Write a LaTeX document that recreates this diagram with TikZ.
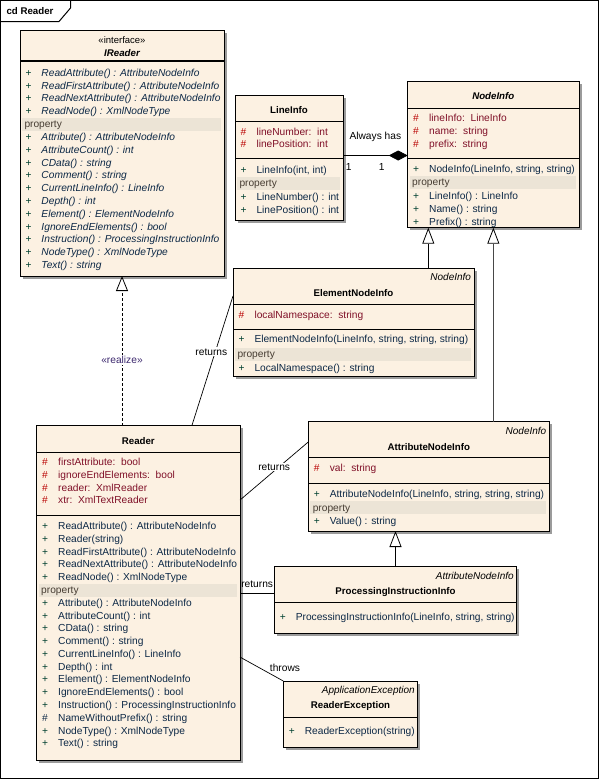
\documentclass[tikz,border=0pt]{standalone}
\usepackage{fontspec}
\setmainfont{Liberation Sans}
\usetikzlibrary{arrows.meta,shadows}
\definecolor{umlfill}{RGB}{252,241,226}
\definecolor{propband}{RGB}{236,228,214}
\definecolor{shadowgray}{RGB}{155,155,155}
\definecolor{hashred}{RGB}{185,0,0}
\definecolor{attrtxt}{RGB}{128,16,40}
\definecolor{optxt}{RGB}{12,40,70}
\definecolor{plusgreen}{RGB}{0,64,48}
\definecolor{proptxt}{RGB}{70,60,50}
\definecolor{realizecol}{RGB}{60,40,110}
\newcommand\umlA[1]{\makebox[16pt][l]{\color{hashred}\#}&\color{attrtxt}#1\\}
\newcommand\umlO[1]{\makebox[16pt][l]{\color{plusgreen}+}&\color{optxt}#1\\}
\newcommand\umlOI[1]{\makebox[16pt][l]{\color{plusgreen}+}&\color{optxt}\itshape #1\\}
\newcommand\umlOP[1]{\makebox[16pt][l]{\color{optxt}\#}&\color{optxt}#1\\}
\newcommand\umlP{\multicolumn{2}{@{}l@{}}{\hspace*{-1pt}\color{proptxt}property}\\}
\newcommand\umlcomp[5]{\node[txt, anchor=north west] (#1) at ({#2+5.5},{#3+3.6-0.7*#4}) {\fontsize{10.2}{#4}\selectfont\begin{tabular}{@{}l@{}l@{}}#5\end{tabular}};}
\begin{document}
\begin{tikzpicture}[x=1pt,y=-1pt,
  classbox/.style={draw=black, line width=0.9pt, fill=umlfill, inner sep=0pt, outer sep=0pt,
    drop shadow={shadow xshift=2.5pt, shadow yshift=-2.5pt, fill=shadowgray, opacity=1}},
  band/.style={fill=propband},
  sepline/.style={draw=black, line width=0.9pt},
  txt/.style={inner sep=0pt, outer sep=0pt, font=\fontsize{10.2}{12.8}\selectfont},
  ttl/.style={inner sep=0pt, outer sep=0pt, anchor=base, font=\bfseries\fontsize{9.7}{12}\selectfont},
  stereo/.style={inner sep=0pt, outer sep=0pt, anchor=base east, font=\itshape\fontsize{10}{12}\selectfont},
  lbl/.style={inner sep=1pt, fill=white, font=\fontsize{10.2}{12}\selectfont},
  lblplain/.style={inner sep=0pt, font=\fontsize{10.2}{12}\selectfont},
  gen/.style={draw=black, line width=0.8pt, -{Triangle[length=16pt,width=12pt,fill=white]}},
  gentwo/.style={draw=black!72, line width=1.3pt, -{Triangle[length=16pt,width=12pt,fill=white,line width=0.8pt,color=black]}},
  realize/.style={draw=black, line width=0.8pt, dash pattern=on 3pt off 2pt, -{Triangle[length=15pt,width=12pt,fill=white]}},
  compo/.style={draw=black, line width=0.8pt, -{Diamond[length=19pt,width=10pt]}},
  assoc/.style={draw=black, line width=0.7pt}
]
\useasboundingbox (0,0) rectangle (600,780);
% frame
\draw[line width=1.2pt] (0.6,0.6) rectangle (598.6,778.6);
\draw[line width=1pt] (0.6,21.5) -- (59,21.5) -- (70.5,8) -- (70.5,0.6);
\node[ttl] (frametitle) at (30,14.5) {cd Reader};

% boxes
\node[classbox, minimum width=204pt, minimum height=246pt, anchor=north west] (ireader) at (20,30) {};
\node[classbox, minimum width=108pt, minimum height=124.3pt, anchor=north west] (lineinfo) at (235,95.7) {};
\node[classbox, minimum width=171.3pt, minimum height=146pt, anchor=north west] (nodeinfo) at (407.7,81.7) {};
\node[classbox, minimum width=241pt, minimum height=108.7pt, anchor=north west] (elem) at (233,268) {};
\node[classbox, minimum width=203.3pt, minimum height=334.3pt, anchor=north west] (reader) at (36.7,425.7) {};
\node[classbox, minimum width=241pt, minimum height=109.3pt, anchor=north west] (attr) at (308.3,421.7) {};
\node[classbox, minimum width=242.4pt, minimum height=66.6pt, anchor=north west] (pii) at (274.3,566.7) {};
\node[classbox, minimum width=134.4pt, minimum height=66.3pt, anchor=north west] (exc) at (283.3,681) {};

% property bands
\fill[band] (22,117.7) rectangle (221,130.7);
\fill[band] (237,176.8) rectangle (340,189.8);
\fill[band] (409.7,176) rectangle (576,189);
\fill[band] (235,347.5) rectangle (471,360.5);
\fill[band] (38.7,584) rectangle (237,597);
\fill[band] (310.3,500.5) rectangle (546.3,513.5);

% separators
\draw[sepline, line width=1.4pt] (20,61) -- (224,61);
\draw[sepline] (235,121) -- (343,121);
\draw[sepline] (235,158) -- (343,158);
\draw[sepline] (407.7,108) -- (579,108);
\draw[sepline] (407.7,158) -- (579,158);
\draw[sepline] (233,304) -- (474,304);
\draw[sepline] (233,329) -- (474,329);
\draw[sepline] (36.7,452) -- (240,452);
\draw[sepline] (36.7,515.7) -- (240,515.7);
\draw[sepline] (308.3,457.7) -- (549.3,457.7);
\draw[sepline] (308.3,483.3) -- (549.3,483.3);
\draw[sepline] (274.3,602.3) -- (516.7,602.3);
\draw[sepline] (283.3,717.3) -- (417.7,717.3);

% titles
\node[txt, anchor=base, font=\fontsize{9.5}{12}\selectfont] (ireader-st) at (122,43.5) {«interface»};
\node[ttl, font=\bfseries\itshape\fontsize{9.7}{12}\selectfont] (ireader-t) at (122,56.8) {IReader};
\node[ttl] (lineinfo-t) at (289,113.5) {LineInfo};
\node[ttl, font=\bfseries\itshape\fontsize{9.7}{12}\selectfont] (nodeinfo-t) at (493.3,99.2) {NodeInfo};
\node[stereo] (elem-st) at (471,280.6) {NodeInfo};
\node[ttl] (elem-t) at (353.5,296.2) {ElementNodeInfo};
\node[ttl] (reader-t) at (138.3,444.2) {Reader};
\node[stereo] (attr-st) at (546.3,434.3) {NodeInfo};
\node[ttl] (attr-t) at (428.8,450.2) {AttributeNodeInfo};
\node[stereo] (pii-st) at (513.7,579.3) {AttributeNodeInfo};
\node[ttl] (pii-t) at (395.5,594.5) {ProcessingInstructionInfo};
\node[stereo] (exc-st) at (414.7,693.6) {ApplicationException};
\node[ttl] (exc-t) at (350.5,708.8) {ReaderException};

% compartments
\umlcomp{ireader-ops}{20}{72.6}{12.83}{%
\umlOI{ReadAttribute() : AttributeNodeInfo}
\umlOI{ReadFirstAttribute() : AttributeNodeInfo}
\umlOI{ReadNextAttribute() : AttributeNodeInfo}
\umlOI{ReadNode() : XmlNodeType}
\umlP
\umlOI{Attribute() : AttributeNodeInfo}
\umlOI{AttributeCount() : int}
\umlOI{CData() : string}
\umlOI{Comment() : string}
\umlOI{CurrentLineInfo() : LineInfo}
\umlOI{Depth() : int}
\umlOI{Element() : ElementNodeInfo}
\umlOI{IgnoreEndElements() : bool}
\umlOI{Instruction() : ProcessingInstructionInfo}
\umlOI{NodeType() : XmlNodeType}
\umlOI{Text() : string}}
\umlcomp{lineinfo-attrs}{235}{131.7}{12.3}{%
\umlA{lineNumber:\ \ int}
\umlA{linePosition:\ \ int}}
\umlcomp{lineinfo-ops}{235}{170}{13.33}{%
\umlO{LineInfo(int, int)}
\umlP
\umlO{LineNumber() : int}
\umlO{LinePosition() : int}}
\umlcomp{nodeinfo-attrs}{407.7}{117.7}{13}{%
\umlA{lineInfo:\ \ LineInfo}
\umlA{name:\ \ string}
\umlA{prefix:\ \ string}}
\umlcomp{nodeinfo-ops}{407.7}{169}{13.2}{%
\umlO{NodeInfo(LineInfo, string, string)}
\umlP
\umlO{LineInfo() : LineInfo}
\umlO{Name() : string}
\umlO{Prefix() : string}}
\umlcomp{elem-attrs}{233}{314.7}{13}{%
\umlA{localNamespace:\ \ string}}
\umlcomp{elem-ops}{233}{339.3}{14.2}{%
\umlO{ElementNodeInfo(LineInfo, string, string, string)}
\umlP
\umlO{LocalNamespace() : string}}
\umlcomp{reader-attrs}{36.7}{462.3}{12.57}{%
\umlA{firstAttribute:\ \ bool}
\umlA{ignoreEndElements:\ \ bool}
\umlA{reader:\ \ XmlReader}
\umlA{xtr:\ \ XmlTextReader}}
\umlcomp{reader-ops}{36.7}{526}{12.78}{%
\umlO{ReadAttribute() : AttributeNodeInfo}
\umlO{Reader(string)}
\umlO{ReadFirstAttribute() : AttributeNodeInfo}
\umlO{ReadNextAttribute() : AttributeNodeInfo}
\umlO{ReadNode() : XmlNodeType}
\umlP
\umlO{Attribute() : AttributeNodeInfo}
\umlO{AttributeCount() : int}
\umlO{CData() : string}
\umlO{Comment() : string}
\umlO{CurrentLineInfo() : LineInfo}
\umlO{Depth() : int}
\umlO{Element() : ElementNodeInfo}
\umlO{IgnoreEndElements() : bool}
\umlO{Instruction() : ProcessingInstructionInfo}
\umlOP{NameWithoutPrefix() : string}
\umlO{NodeType() : XmlNodeType}
\umlO{Text() : string}}
\umlcomp{attr-attrs}{308.3}{467.7}{13}{%
\umlA{val:\ \ string}}
\umlcomp{attr-ops}{308.3}{494}{13.5}{%
\umlO{AttributeNodeInfo(LineInfo, string, string, string)}
\umlP
\umlO{Value() : string}}
\umlcomp{pii-ops}{274.3}{616.7}{13}{%
\umlO{ProcessingInstructionInfo(LineInfo, string, string)}}
\umlcomp{exc-ops}{283.3}{730.7}{13}{%
\umlO{ReaderException(string)}}

% connectors
\coordinate (gx1) at (428.3,0);
\coordinate (cy) at (0,155.5);
\draw[gen] (elem.north -| gx1) -- (nodeinfo.south -| gx1);
\draw[gentwo] (attr.north -| nodeinfo.south) -- (nodeinfo.south);
\draw[gen] (pii.north) -- (pii.north |- attr.south);
\draw[realize] (ireader.south |- reader.north) -- (ireader.south)
  node[lbl, pos=0.44, text=realizecol] (lbl-realize) {«realize»};
\draw[compo] (lineinfo.east |- cy) -- (nodeinfo.west |- cy)
  node[lblplain, pos=0.5, yshift=18.8pt] (lbl-has) {Always has}
  node[lblplain, pos=0.09, yshift=-11.5pt] (lbl-m1) {1}
  node[lblplain, pos=0.6, yshift=-11.5pt] (lbl-m2) {1};
\draw[assoc] ([yshift=-28pt]elem.north west) -- ([xshift=53.5pt]reader.north)
  node[lbl, pos=0.43, xshift=-4pt] (lbl-ret1) {returns};
\draw[assoc] ([yshift=92.8pt]reader.east) -- ([yshift=34.4pt]attr.west)
  node[lbl, pos=0.5, yshift=4pt] (lbl-ret2) {returns};
\draw[assoc] (reader.east) -- (reader.east -| pii.west)
  node[lblplain, midway, anchor=base, yshift=5.2pt] (lbl-ret3) {returns};
\draw[assoc] ([yshift=-64.2pt]reader.east) -- (exc.north west)
  node[lblplain, pos=0.5, xshift=23.3pt, yshift=1.3pt] (lbl-throws) {throws};
\end{tikzpicture}
\end{document}
